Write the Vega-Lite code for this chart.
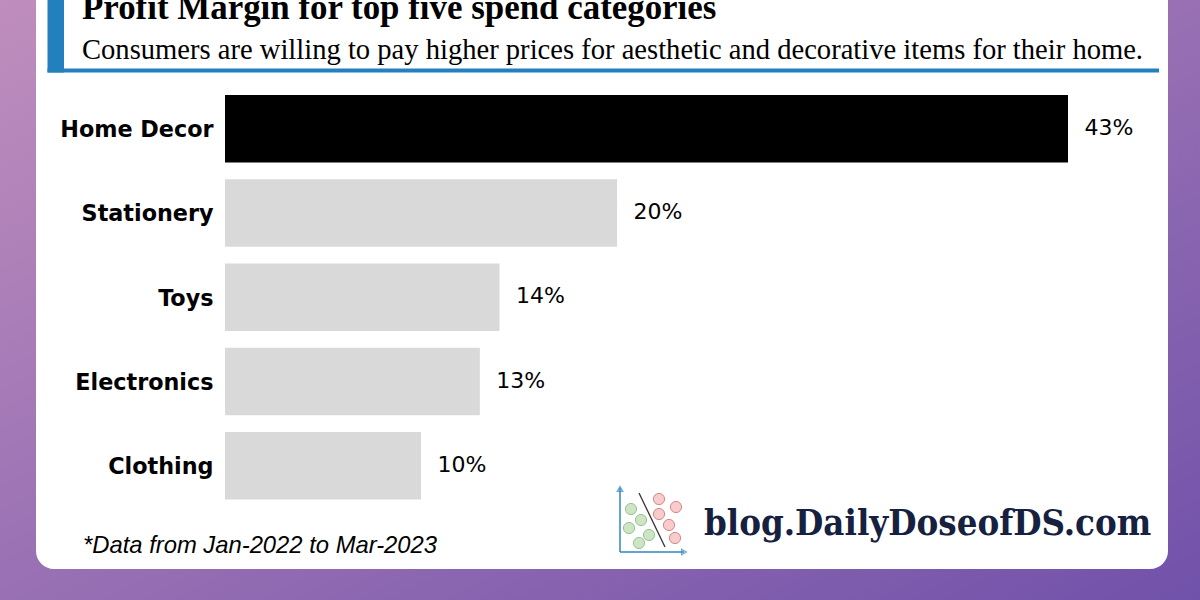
{"$schema":"https://vega.github.io/schema/vega-lite/v6.json","width":1200,"height":600,"padding":0,"autosize":{"type":"none"},"background":"#8f68b2","config":{"view":{"stroke":null}},"resolve":{"scale":{"x":"independent","y":"independent","color":"independent"}},"datasets":{"bars":[{"category":"Home Decor","margin":43,"label":"43%","group":"highlight"},{"category":"Stationery","margin":20,"label":"20%","group":"other"},{"category":"Toys","margin":14,"label":"14%","group":"other"},{"category":"Electronics","margin":13,"label":"13%","group":"other"},{"category":"Clothing","margin":10,"label":"10%","group":"other"}],"logo":[{"px":631,"py":509,"cls":"green"},{"px":641,"py":520,"cls":"green"},{"px":629,"py":528,"cls":"green"},{"px":649,"py":535,"cls":"green"},{"px":639,"py":543,"cls":"green"},{"px":659,"py":499,"cls":"red"},{"px":676,"py":507,"cls":"red"},{"px":659,"py":514,"cls":"red"},{"px":669,"py":525,"cls":"red"},{"px":675,"py":538,"cls":"red"}]},"data":{"values":[{}]},"layer":[
{"mark":{"type":"rect","color":{"gradient":"linear","x1":0,"y1":0,"x2":1,"y2":1,"stops":[{"offset":0,"color":"#bf8ebd"},{"offset":1,"color":"#7152aa"}]}},"encoding":{"x":{"datum":0,"type":"quantitative","scale":{"domain":[0,1200],"range":[0,1200]},"axis":null},"x2":{"datum":1200},"y":{"datum":0,"type":"quantitative","scale":{"domain":[0,600],"range":[0,600]},"axis":null},"y2":{"datum":600}}},
{"mark":{"type":"rect","color":"#ffffff","cornerRadiusBottomLeft":18,"cornerRadiusBottomRight":18},"encoding":{"x":{"datum":36,"type":"quantitative","scale":{"domain":[0,1200],"range":[0,1200]},"axis":null},"x2":{"datum":1168},"y":{"datum":0,"type":"quantitative","scale":{"domain":[0,600],"range":[0,600]},"axis":null},"y2":{"datum":569}}},
{"mark":{"type":"rect","color":"#2280bf"},"encoding":{"x":{"datum":47.5,"type":"quantitative","scale":{"domain":[0,1200],"range":[0,1200]},"axis":null},"x2":{"datum":64},"y":{"datum":0,"type":"quantitative","scale":{"domain":[0,600],"range":[0,600]},"axis":null},"y2":{"datum":72.5}}},
{"mark":{"type":"rect","color":"#2280bf"},"encoding":{"x":{"datum":47.5,"type":"quantitative","scale":{"domain":[0,1200],"range":[0,1200]},"axis":null},"x2":{"datum":1159},"y":{"datum":68.5,"type":"quantitative","scale":{"domain":[0,600],"range":[0,600]},"axis":null},"y2":{"datum":72.5}}},
{"mark":{"type":"text","text":"Profit Margin for top five spend categories","font":"Liberation Serif","fontWeight":"bold","fontSize":34.9,"align":"left","baseline":"alphabetic","color":"#000000"},"encoding":{"x":{"datum":82,"type":"quantitative","scale":{"domain":[0,1200],"range":[0,1200]},"axis":null},"y":{"datum":18.5,"type":"quantitative","scale":{"domain":[0,600],"range":[0,600]},"axis":null}}},
{"mark":{"type":"text","text":"Consumers are willing to pay higher prices for aesthetic and decorative items for their home.","font":"Liberation Serif","fontSize":28.59,"align":"left","baseline":"alphabetic","color":"#000000"},"encoding":{"x":{"datum":82,"type":"quantitative","scale":{"domain":[0,1200],"range":[0,1200]},"axis":null},"y":{"datum":59,"type":"quantitative","scale":{"domain":[0,600],"range":[0,600]},"axis":null}}},
{"data":{"name":"bars"},"mark":{"type":"bar"},"encoding":{"x":{"field":"margin","type":"quantitative","scale":{"domain":[0,43],"range":[225,1068],"nice":false},"axis":null},"y":{"field":"category","type":"nominal","sort":null,"scale":{"range":[86.6,507.9],"paddingInner":0.2,"paddingOuter":0.1},"axis":{"orient":"left","offset":-213,"zindex":1,"domain":false,"ticks":false,"grid":false,"title":null,"labelPadding":0,"labelOffset":1.5,"labelFont":"DejaVu Sans","labelFontWeight":"bold","labelFontSize":22.3,"labelColor":"#000000","labelLimit":300}},"color":{"field":"group","type":"nominal","scale":{"domain":["highlight","other"],"range":["#000000","#d9d9d9"]},"legend":null}}},
{"data":{"name":"bars"},"mark":{"type":"text","font":"DejaVu Sans","fontSize":22,"align":"left","dx":16.5,"dy":-1,"color":"#000000"},"encoding":{"x":{"field":"margin","type":"quantitative","scale":{"domain":[0,43],"range":[225,1068],"nice":false},"axis":null},"y":{"field":"category","type":"nominal","sort":null,"scale":{"range":[86.6,507.9],"paddingInner":0.2,"paddingOuter":0.1},"axis":null},"text":{"field":"label"}}},
{"mark":{"type":"text","text":"*Data from Jan-2022 to Mar-2023","font":"Liberation Sans","fontStyle":"italic","fontSize":23.8,"align":"left","baseline":"alphabetic","color":"#000000"},"encoding":{"x":{"datum":83,"type":"quantitative","scale":{"domain":[0,1200],"range":[0,1200]},"axis":null},"y":{"datum":553,"type":"quantitative","scale":{"domain":[0,600],"range":[0,600]},"axis":null}}},
{"mark":{"type":"text","text":"blog.DailyDoseofDS.com","font":"DejaVu Serif Condensed","fontWeight":"bold","fontSize":36.25,"align":"left","baseline":"alphabetic","color":"#15213f"},"encoding":{"x":{"datum":704,"type":"quantitative","scale":{"domain":[0,1200],"range":[0,1200]},"axis":null},"y":{"datum":535,"type":"quantitative","scale":{"domain":[0,600],"range":[0,600]},"axis":null}}},
{"mark":{"type":"rule","color":"#2f86c0","strokeWidth":1.5},"encoding":{"x":{"datum":620,"type":"quantitative","scale":{"domain":[0,1200],"range":[0,1200]},"axis":null},"x2":{"datum":620},"y":{"datum":488,"type":"quantitative","scale":{"domain":[0,600],"range":[0,600]},"axis":null},"y2":{"datum":552}}},
{"mark":{"type":"rule","color":"#2f86c0","strokeWidth":1.5},"encoding":{"x":{"datum":620,"type":"quantitative","scale":{"domain":[0,1200],"range":[0,1200]},"axis":null},"x2":{"datum":684},"y":{"datum":552,"type":"quantitative","scale":{"domain":[0,600],"range":[0,600]},"axis":null},"y2":{"datum":552}}},
{"mark":{"type":"point","shape":"triangle-up","filled":false,"color":"#2f86c0","size":30,"strokeWidth":1.3},"encoding":{"x":{"datum":620,"type":"quantitative","scale":{"domain":[0,1200],"range":[0,1200]},"axis":null},"y":{"datum":489,"type":"quantitative","scale":{"domain":[0,600],"range":[0,600]},"axis":null}}},
{"mark":{"type":"point","shape":"triangle-right","filled":false,"color":"#2f86c0","size":30,"strokeWidth":1.3},"encoding":{"x":{"datum":684,"type":"quantitative","scale":{"domain":[0,1200],"range":[0,1200]},"axis":null},"y":{"datum":552,"type":"quantitative","scale":{"domain":[0,600],"range":[0,600]},"axis":null}}},
{"mark":{"type":"rule","color":"#333333","strokeWidth":1.3},"encoding":{"x":{"datum":639,"type":"quantitative","scale":{"domain":[0,1200],"range":[0,1200]},"axis":null},"x2":{"datum":665},"y":{"datum":493,"type":"quantitative","scale":{"domain":[0,600],"range":[0,600]},"axis":null},"y2":{"datum":547}}},
{"data":{"name":"logo"},"mark":{"type":"point","shape":"circle","filled":true,"opacity":1,"size":125,"strokeWidth":1},"encoding":{"x":{"field":"px","type":"quantitative","scale":{"domain":[0,1200],"range":[0,1200]},"axis":null},"y":{"field":"py","type":"quantitative","scale":{"domain":[0,600],"range":[0,600]},"axis":null},"fill":{"field":"cls","type":"nominal","scale":{"domain":["green","red"],"range":["#cde5c4","#f8cccc"]},"legend":null},"stroke":{"field":"cls","type":"nominal","scale":{"domain":["green","red"],"range":["#97c58f","#d98585"]},"legend":null}}}
]}
